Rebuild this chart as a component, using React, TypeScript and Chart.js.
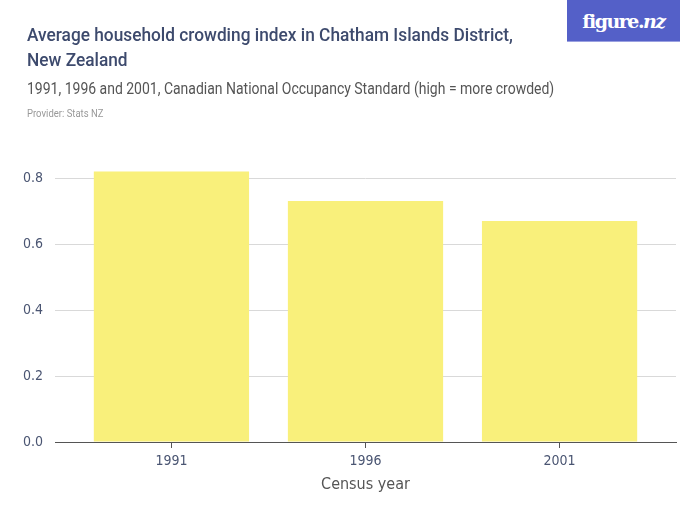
import React, { useEffect, useRef } from "react";
import { Chart, registerables } from "chart.js";

Chart.register(...registerables);

const categories = ["1991", "1996", "2001"];
const values = [0.82, 0.73, 0.67];
const yTicks = [0, 0.2, 0.4, 0.6, 0.8];

const TITLE_LINES = ["Average household crowding index in Chatham Islands District,", "New Zealand"];
const SUBTITLE = "1991, 1996 and 2001, Canadian National Occupancy Standard (high = more crowded)";
const PROVIDER = "Provider: Stats NZ";
const X_TITLE = "Census year";

const FONT = "'DejaVu Sans Condensed', 'Roboto', sans-serif";
const HFONT = "'Roboto', sans-serif";

export default function App() {
  const ref = useRef<HTMLCanvasElement>(null);

  useEffect(() => {
    document.body.style.margin = "0";
    const ctx = ref.current!.getContext("2d")!;
    const chart = new Chart(ctx, {
      type: "bar",
      data: {
        datasets: [
          {
            data: values.map((v, i) => ({ x: i, y: v })),
            backgroundColor: "#f9f07b",
            barPercentage: 0.8,
            categoryPercentage: 1,
          },
        ],
      },
      options: {
        animation: false,
        responsive: false,
        maintainAspectRatio: false,
        layout: { padding: { top: 112, right: 24, bottom: 20, left: 0 } },
        plugins: { legend: { display: false }, tooltip: { enabled: false } },
        scales: {
          x: {
            type: "linear",
            min: -0.6,
            max: 2.6,
            offset: false,
            afterBuildTicks: (s: any) => {
              s.ticks = categories.map((_, i) => ({ value: i }));
            },
            afterFit: (s: any) => {
              s.height = 63;
            },
            ticks: {
              callback: (v: any) => categories[v] ?? "",
              color: "#4a5572",
              font: { family: FONT, size: 14 },
              padding: 5,
              maxRotation: 0,
            },
            grid: {
              offset: false,
              drawOnChartArea: false,
              drawTicks: true,
              tickLength: 6,
              color: "#555555",
            },
            border: { display: true, color: "#555555", width: 1 },
            title: {
              display: true,
              text: X_TITLE,
              color: "#555555",
              font: { family: FONT, size: 16 },
              padding: { top: 4, bottom: 11 },
            },
          },
          y: {
            min: 0,
            max: 1.0,
            afterBuildTicks: (s: any) => {
              s.ticks = yTicks.map((v) => ({ value: v }));
            },
            afterFit: (s: any) => {
              s.width = 55;
            },
            ticks: {
              callback: (v: any) => Number(v).toFixed(1),
              color: "#4a5572",
              font: { family: FONT, size: 14 },
              padding: 12,
            },
            grid: { color: "#d9d9d9", drawTicks: false, lineWidth: 1 },
            border: { display: false },
          },
        },
      },
    } as any);
    return () => chart.destroy();
  }, []);

  const squeeze = (sx: number): React.CSSProperties => ({
    transform: `scaleX(${sx})`,
    transformOrigin: "0 0",
    whiteSpace: "nowrap",
  });

  return (
    <div style={{ position: "relative", width: 700, height: 525, background: "#fff", overflow: "hidden" }}>
      <canvas ref={ref} width={700} height={525} style={{ position: "absolute", left: 0, top: 0 }} />
      <div
        style={{
          position: "absolute",
          left: 27,
          top: 22,
          fontFamily: HFONT,
          fontSize: 19,
          lineHeight: "25px",
          color: "#3d4a6d",
          fontWeight: 500,
          ...squeeze(0.91),
        }}
      >
        {TITLE_LINES.map((l, i) => (
          <div key={i}>{l}</div>
        ))}
      </div>
      <div
        style={{
          position: "absolute",
          left: 27,
          top: 79,
          fontFamily: HFONT,
          fontSize: 16,
          lineHeight: "20px",
          color: "#555555",
          ...squeeze(0.874),
        }}
      >
        {SUBTITLE}
      </div>
      <div
        style={{
          position: "absolute",
          left: 27,
          top: 108,
          fontFamily: HFONT,
          fontSize: 10,
          lineHeight: "12px",
          color: "#999999",
          ...squeeze(0.95),
        }}
      >
        {PROVIDER}
      </div>
      <div
        style={{
          position: "absolute",
          left: 567,
          top: 0,
          width: 113,
          height: 41,
          background: "#5460c8",
          borderBottom: "1px solid #9aa0e0",
          color: "#ffffff",
          fontFamily: "'DejaVu Serif', serif",
          fontWeight: 700,
          fontSize: 19,
          display: "flex",
          alignItems: "center",
          justifyContent: "center",
          letterSpacing: -1.5,
        }}
      >
        figure.<i>nz</i>
      </div>
    </div>
  );
}
